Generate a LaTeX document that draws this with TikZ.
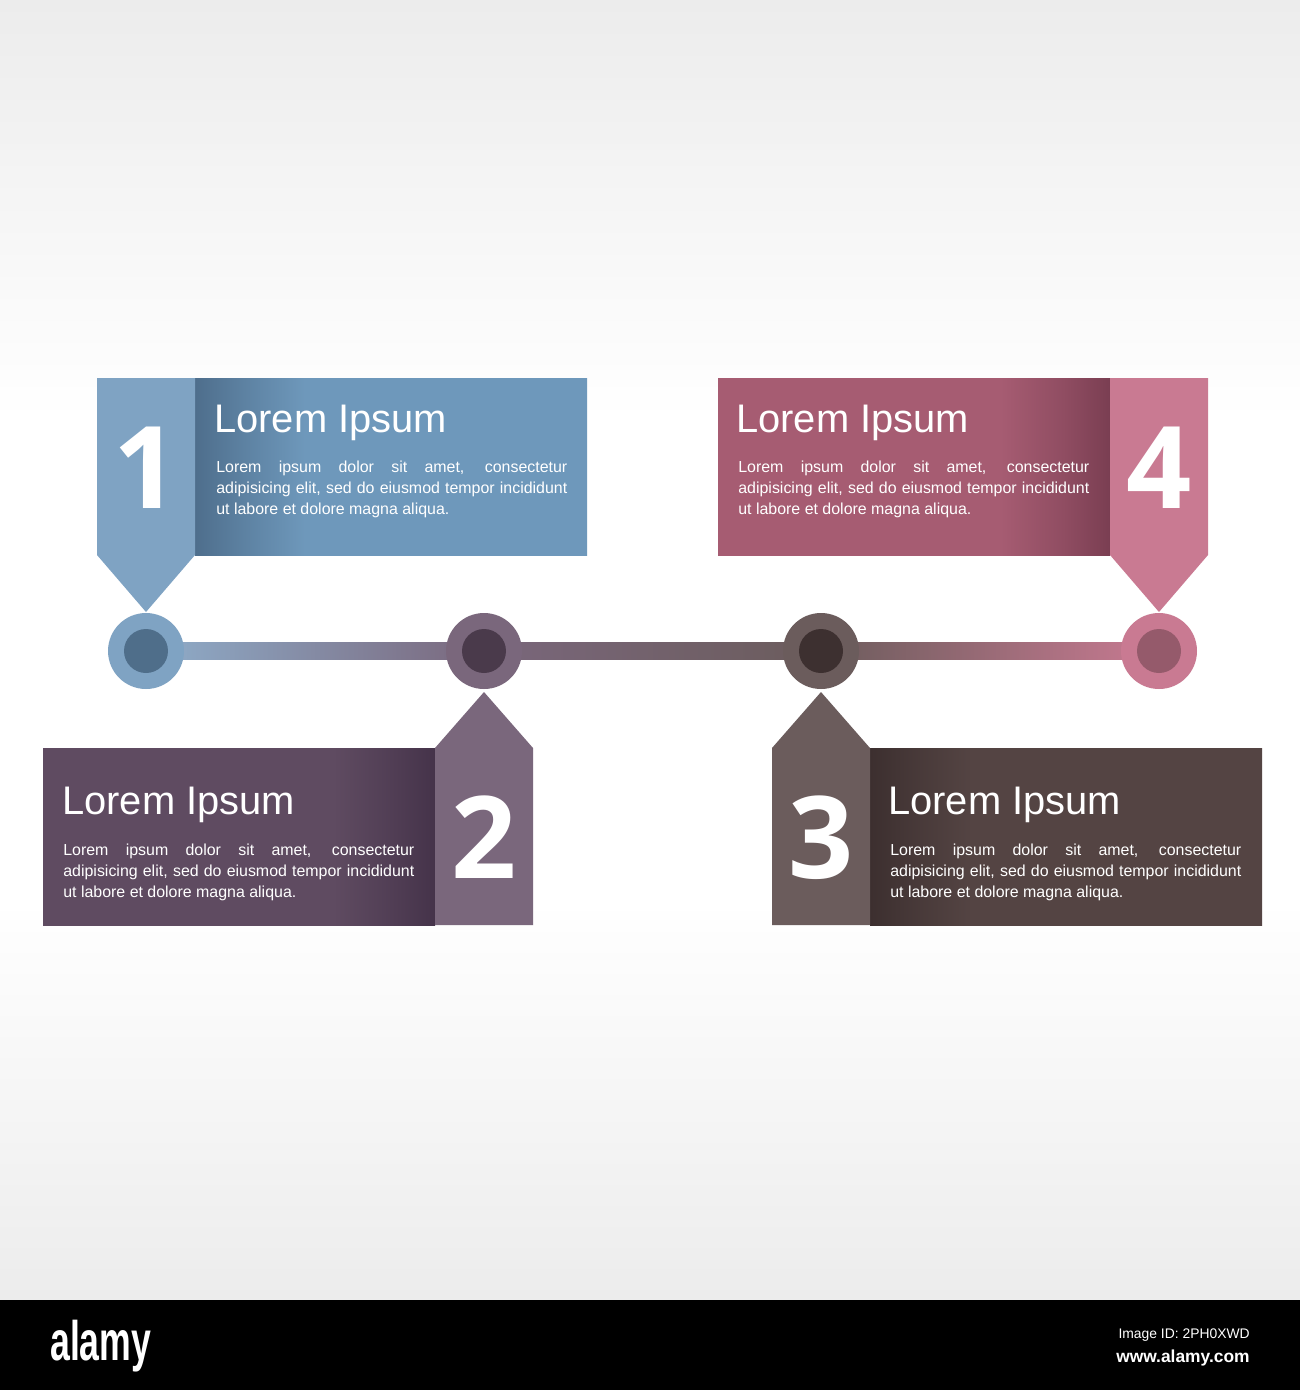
\documentclass[tikz,border=0pt]{standalone}
\usepackage{fontspec}
\setmainfont{Liberation Sans}
\newfontfamily\numfont{Open Sans}
\usetikzlibrary{calc}
\usetikzlibrary{backgrounds}

\definecolor{bgGray}{HTML}{ECECEC}
\definecolor{blueTab}{HTML}{7FA3C3}
\definecolor{blueMain}{HTML}{6E98BB}
\definecolor{blueDark}{HTML}{4E6E8C}
\definecolor{blueInner}{HTML}{4F6E8A}
\definecolor{blueLine}{HTML}{8FAECB}
\definecolor{mauveTab}{HTML}{7A677C}
\definecolor{mauveMain}{HTML}{5F4B61}
\definecolor{mauveDark}{HTML}{45334A}
\definecolor{mauveInner}{HTML}{4A3A4B}
\definecolor{brownTab}{HTML}{6B5C5C}
\definecolor{brownMain}{HTML}{544443}
\definecolor{brownDark}{HTML}{3C2F2F}
\definecolor{brownInner}{HTML}{3D3030}
\definecolor{pinkTab}{HTML}{C97A92}
\definecolor{pinkMain}{HTML}{A65C72}
\definecolor{pinkDark}{HTML}{7A3E52}
\definecolor{pinkInner}{HTML}{955A6B}

% shadow next to the tab, fading into the card colour (path spans 25bp..75bp)
\pgfdeclarehorizontalshading{blueCard}{100bp}{color(0bp)=(blueDark); color(25bp)=(blueDark); color(31bp)=(blueMain!45!blueDark); color(39bp)=(blueMain); color(100bp)=(blueMain)}
\pgfdeclarehorizontalshading{pinkCard}{100bp}{color(0bp)=(pinkMain); color(61bp)=(pinkMain); color(69bp)=(pinkMain!50!pinkDark); color(75bp)=(pinkDark); color(100bp)=(pinkDark)}
\pgfdeclarehorizontalshading{mauveCard}{100bp}{color(0bp)=(mauveMain); color(62bp)=(mauveMain); color(69bp)=(mauveMain!50!mauveDark); color(75bp)=(mauveDark); color(100bp)=(mauveDark)}
\pgfdeclarehorizontalshading{brownCard}{100bp}{color(0bp)=(brownDark); color(25bp)=(brownDark); color(31bp)=(brownMain!50!brownDark); color(38bp)=(brownMain); color(100bp)=(brownMain)}

\hyphenpenalty=10000

\newcommand\blurbtext{Lorem ipsum dolor sit amet, consectetur\linebreak
adipisicing elit, sed do eiusmod tempor incididunt\linebreak
ut labore et dolore magna aliqua.}

\begin{document}
\begin{tikzpicture}
	[x=0.02cm,y=-0.02cm,
	ring/.style={circle,minimum size=1.52cm,inner sep=0},
	hub/.style={circle,minimum size=0.88cm,inner sep=0},
	headline/.style={anchor=base west,inner sep=0,text=white,font=\fontsize{22.7}{27}\selectfont},
	blurb/.style={anchor=base west,inner sep=0,text=white,text width=7.02cm,align=justify,
		font=\fontsize{9.07}{12.19}\selectfont},
	digit/.style={anchor=base,inner sep=0,text=white,font=\numfont\bfseries\fontsize{65}{70}\selectfont}]
	\useasboundingbox (0,0) rectangle (1300,1390);

	% cards
	\shade[shading=blueCard] (195,378) rectangle (587,555);
	\fill[blueTab] (97,378) -- (195,378) -- (195,555) -- (146,612) -- (97,555) -- cycle;

	\shade[shading=pinkCard] (718,378) rectangle (1110,555);
	\fill[pinkTab] (1110,378) -- (1208,378) -- (1208,555) -- (1159,612) -- (1110,555) -- cycle;

	\shade[shading=mauveCard] (43,748) rectangle (435,925);
	\fill[mauveTab] (435,925) -- (435,748) -- (484,692) -- (533,748) -- (533,925) -- cycle;

	\shade[shading=brownCard] (870,748) rectangle (1262,925);
	\fill[brownTab] (772,925) -- (772,748) -- (821,692) -- (870,748) -- (870,925) -- cycle;

	% timeline stops
	\foreach \i/\x/\outer/\inner in
	{1/146/blueTab/blueInner, 2/484/mauveTab/mauveInner, 3/821/brownTab/brownInner, 4/1159/pinkTab/pinkInner}
	{\node[ring,fill=\outer] (s\i) at (\x,651) {};
	\node[hub,fill=\inner] (h\i) at (s\i) {};}

	\begin{pgfonlayer}{background}
	\shade[top color=bgGray,bottom color=white] (0,0) rectangle (1300,420);
	\fill[white] (0,420) rectangle (1300,900);
	\shade[top color=white,bottom color=bgGray] (0,900) rectangle (1300,1300);
	\foreach \from/\to/\ca/\cb in
	{s1/s2/blueLine/mauveTab, s2/s3/mauveTab/brownTab, s3/s4/brownTab/pinkTab}
	\shade[left color=\ca,right color=\cb] ($(\from)+(0,-8.5)$) rectangle ($(\to)+(0,8.5)$);
	\end{pgfonlayer}

	% texts
	\node[digit] (n1) at (146,508) {1};
	\node[headline] (t1) at (214,432) {Lorem Ipsum};
	\node[blurb] (b1) at (216,472) {\blurbtext};

	\node[digit] (n4) at (1159,508) {4};
	\node[headline] (t4) at (736,432) {Lorem Ipsum};
	\node[blurb] (b4) at (738,472) {\blurbtext};

	\node[digit] (n2) at (484,878) {2};
	\node[headline] (t2) at (62,814) {Lorem Ipsum};
	\node[blurb] (b2) at (63,855) {\blurbtext};

	\node[digit] (n3) at (821,878) {3};
	\node[headline] (t3) at (888,814) {Lorem Ipsum};
	\node[blurb] (b3) at (890,855) {\blurbtext};

	% footer bar
	\fill[black] (0,1300) rectangle (1300,1390);
	\node[anchor=base west,inner sep=0,text=white,font=\bfseries\fontsize{31.7}{32}\selectfont,xscale=0.64] (logo) at (50,1360) {alamy};
	\node[anchor=base east,inner sep=0,text=white,font=\fontsize{7.9}{9}\selectfont] (imgid) at (1250,1338) {Image ID: 2PH0XWD};
	\node[anchor=base east,inner sep=0,text=white,font=\bfseries\fontsize{9.9}{11}\selectfont] (site) at (1250,1362) {www.alamy.com};
\end{tikzpicture}
\end{document}
